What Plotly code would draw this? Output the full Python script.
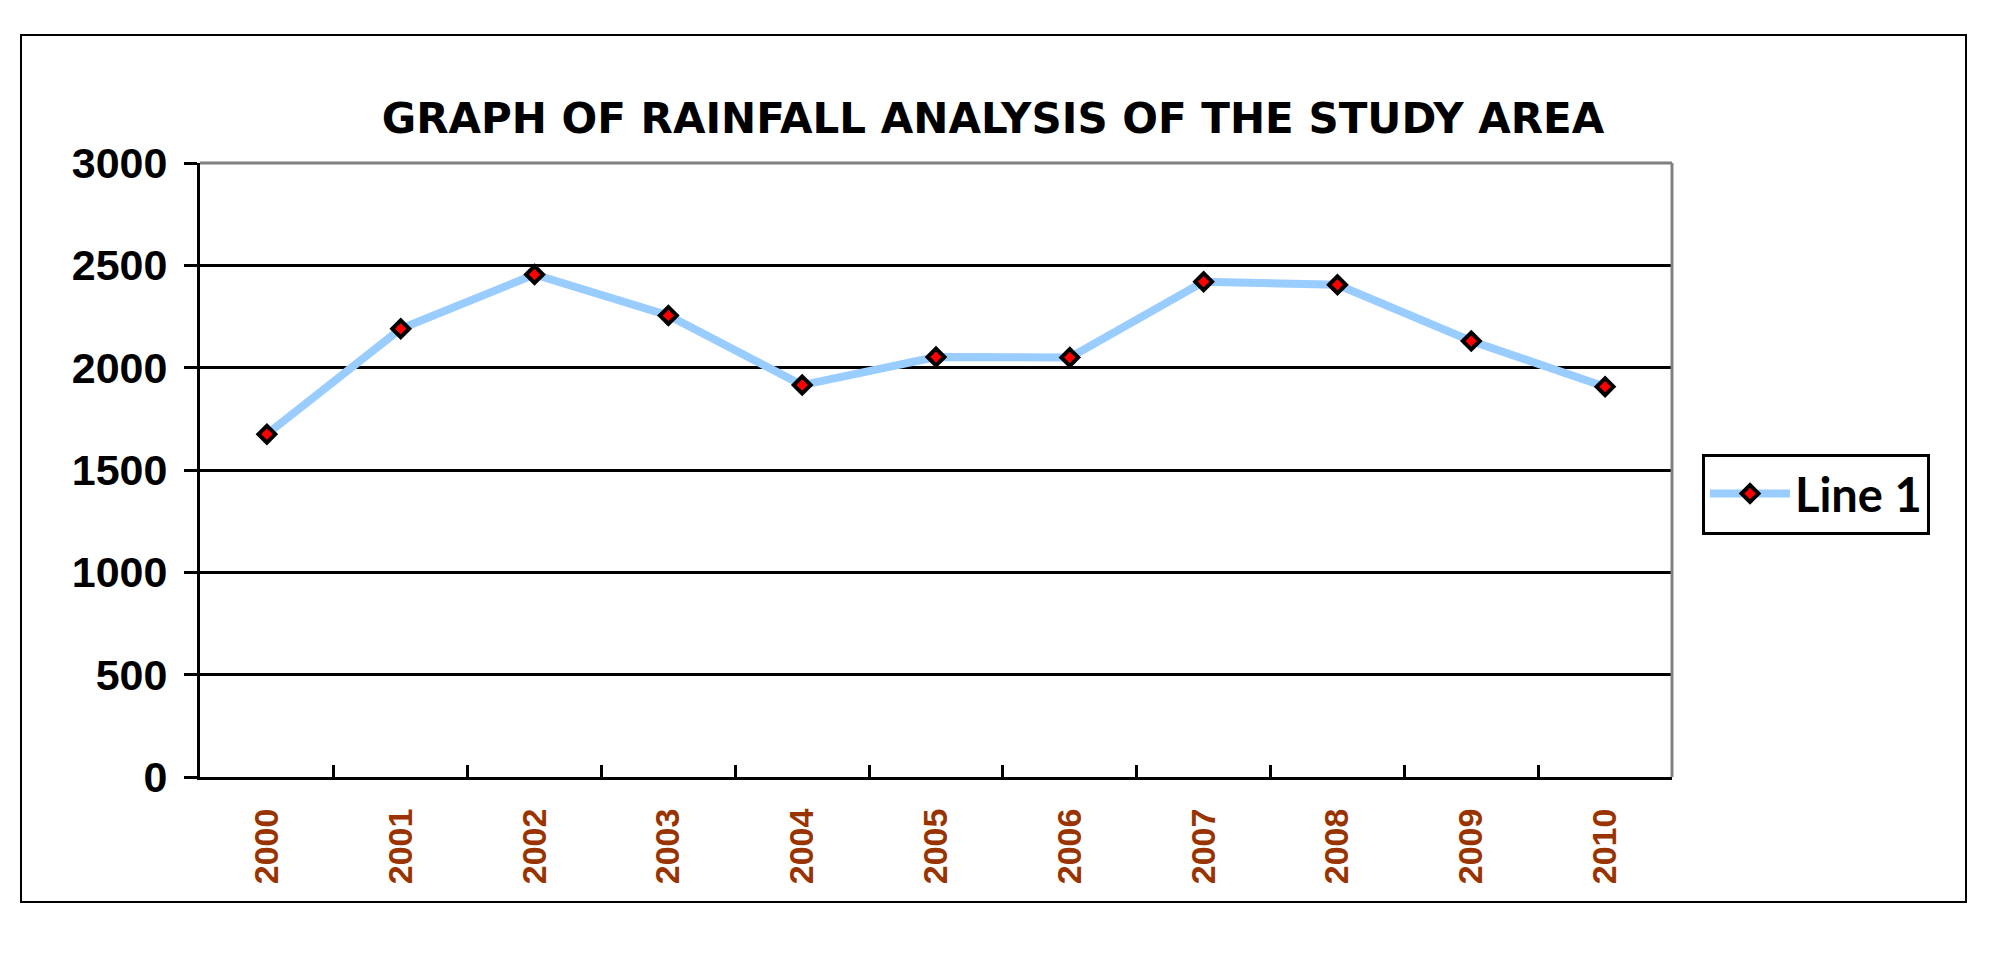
import plotly.graph_objects as go

years = ["2000", "2001", "2002", "2003", "2004", "2005", "2006", "2007", "2008", "2009", "2010"]
rainfall = [1675, 2190, 2455, 2255, 1915, 2052, 2050, 2420, 2405, 2130, 1907]
y_ticks = [0, 500, 1000, 1500, 2000, 2500, 3000]

W, H = 1991, 969
L, R, T, B = 200, 1672, 163, 777

fig = go.Figure()
fig.add_trace(go.Scatter(
    x=years, y=rainfall, mode="lines+markers", name="Line 1",
    line=dict(color="#99CCFF", width=8),
    marker=dict(symbol="diamond", size=13, color="#FF0000",
                line=dict(color="black", width=4)),
))

pw, ph = R - L, B - T
fig.update_layout(
    width=W, height=H,
    margin=dict(l=L, r=W - R, t=T, b=H - B, pad=0),
    paper_bgcolor="white", plot_bgcolor="white",
    title=dict(text="<b>GRAPH OF RAINFALL ANALYSIS OF THE STUDY AREA</b>",
               x=993 / W, xref="container", xanchor="center",
               y=1 - 118 / H, yref="container", yanchor="middle",
               font=dict(family="DejaVu Sans", size=42, color="black")),
    showlegend=True,
    legend=dict(x=(1702 - L) / pw, xanchor="left", y=(B - 494) / ph, yanchor="middle",
                bordercolor="black", borderwidth=3, bgcolor="white",
                itemwidth=80,
                font=dict(family="Lato", size=47, color="black", weight="bold")),
    xaxis=dict(type="category", range=[-0.5, 10.5],
               showline=True, linecolor="black", linewidth=3,
               ticks="inside", tickson="boundaries", ticklen=12, tickwidth=3, tickcolor="black",
               tickangle=-90, ticklabelstandoff=15,
               tickfont=dict(family="Liberation Sans, Arial", size=34, color="#993300", weight="bold"),
               showgrid=False, zeroline=False),
    yaxis=dict(range=[0, 3000], tickvals=y_ticks, ticktext=[str(v) for v in y_ticks],
               showline=True, linecolor="black", linewidth=3,
               ticks="outside", ticklen=13, tickwidth=3, tickcolor="black",
               ticklabelstandoff=8,
               tickfont=dict(family="Liberation Sans, Arial", size=43, color="black", weight="bold"),
               showgrid=True, gridcolor="black", gridwidth=3, zeroline=False),
)

# plot-area border (gray top and right)
fig.add_shape(type="line", xref="paper", yref="paper", x0=0, x1=1, y0=1, y1=1,
              line=dict(color="#808080", width=3), layer="above")
fig.add_shape(type="line", xref="paper", yref="paper", x0=1, x1=1, y0=0, y1=1,
              line=dict(color="#808080", width=3), layer="above")
# outer chart frame
fig.add_shape(type="rect", xref="paper", yref="paper",
              x0=(21 - L) / pw, x1=(1966 - L) / pw,
              y0=(B - 902) / ph, y1=(B - 35) / ph,
              line=dict(color="black", width=2), layer="below")

fig.write_html("out.html")
